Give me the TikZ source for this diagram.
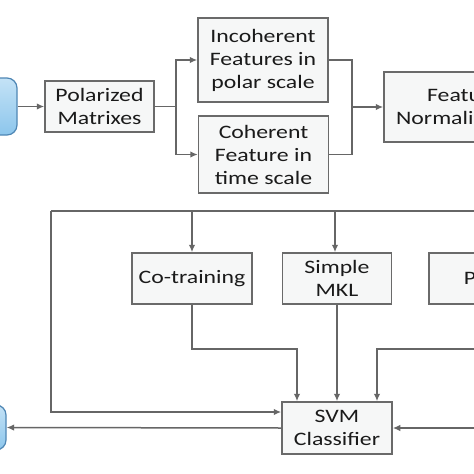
\documentclass[tikz,border=0pt]{standalone}
\usepackage{fontspec}
\setmainfont{Carlito}[FakeStretch=1.25]
\usetikzlibrary{arrows.meta,calc}
\definecolor{linegray}{HTML}{666666}
\definecolor{boxgray}{HTML}{6A6A6A}
\definecolor{boxfill}{HTML}{F6F7F7}
\definecolor{textgray}{HTML}{1A1A1A}
\definecolor{blueline}{HTML}{4F87B5}
\definecolor{bluetop}{HTML}{C4E2F6}
\definecolor{bluebot}{HTML}{8CC6EC}

\begin{document}
\begin{tikzpicture}[x=1pt,y=-1pt,
    box/.style={draw=boxgray,fill=boxfill,line width=1.5pt,inner sep=0pt,
      align=center,text=textgray,font=\fontsize{19}{23}\selectfont},
    io/.style={draw=blueline,rounded corners=10pt,top color=bluetop,
      bottom color=bluebot,line width=1.2pt,inner sep=0pt},
    conn/.style={draw=linegray,line width=1.5pt},
    arr/.style={conn,-{Latex[length=7.5pt,width=6.5pt]}}]
  \fill[white] (0,0) rectangle (474,474);
  \useasboundingbox (0,0) rectangle (474,474);
  \clip (0,0) rectangle (474,474);

  % feature extraction
  \node[io,minimum width=57pt,minimum height=57pt] (input) at (-11.5,106.5) {};
  \node[box,minimum width=109pt,minimum height=51pt] (polar) at (99.5,106.5) {Polarized\\Matrixes};
  \node[box,minimum width=130pt,minimum height=84pt] (incoh) at (263,60) {Incoherent\\Features in\\polar scale};
  \node[box,minimum width=130pt,minimum height=77pt] (coh) at (263.5,154.5) {Coherent\\Feature in\\time scale};
  \node[box,minimum width=160pt,minimum height=70pt] (norm) at (464,107) {Feature\\Normalization};

  \draw[arr] (input.east) -- (polar.west);
  \coordinate (split) at (176,106.5);
  \draw[conn] (polar.east) -- (split);
  \draw[arr] (split) |- (incoh.west);
  \draw[arr] (split) |- (coh.west);
  \coordinate (merge) at (352,107);
  \draw[conn] (incoh.east) -| (merge) |- (coh.east);
  \draw[arr] (merge) -- (norm.west);

  % classification
  \node[box,minimum width=120pt,minimum height=51pt] (cotrain) at (192,278.5) {Co-training};
  \node[box,minimum width=109pt,minimum height=51pt] (mkl) at (337,278.5) {Simple\\MKL};
  \node[box,anchor=west,minimum height=51pt,inner xsep=35pt,text width=42pt,align=left] (pbox) at (428,278.5) {P};
  \node[box,minimum width=110pt,minimum height=52pt] (svm) at (337,428) {SVM\\Classifier};
  \node[io,minimum width=52pt,minimum height=45pt] (output) at (-20,427.5) {};

  \coordinate (busR) at (480,211);
  \coordinate (busL) at (51,211);
  \coordinate (loopB) at (51,412);
  \draw[conn] (busR) -- (busL);
  \draw[arr] (busL) -- (loopB) -- (svm.west |- loopB);
  \draw[arr] (cotrain.north |- busL) -- (cotrain.north);
  \coordinate (mkltop) at (335,211);
  \draw[arr] (mkltop) -- (mkl.north -| mkltop);

  \coordinate (cobend) at (297,349);
  \draw[arr] (cotrain.south) |- (cobend) -- (svm.north -| cobend);
  \draw[arr] (mkl.south) -- (svm.north);
  \coordinate (pin) at (480,349);
  \coordinate (pbend) at (377,349);
  \draw[arr] (pin) -- (pbend) -- (svm.north -| pbend);
  \coordinate (rin) at (480,428);
  \draw[arr] (rin) -- (svm.east);
  \draw[arr] (svm.west) -- (output.east);
\end{tikzpicture}
\end{document}
